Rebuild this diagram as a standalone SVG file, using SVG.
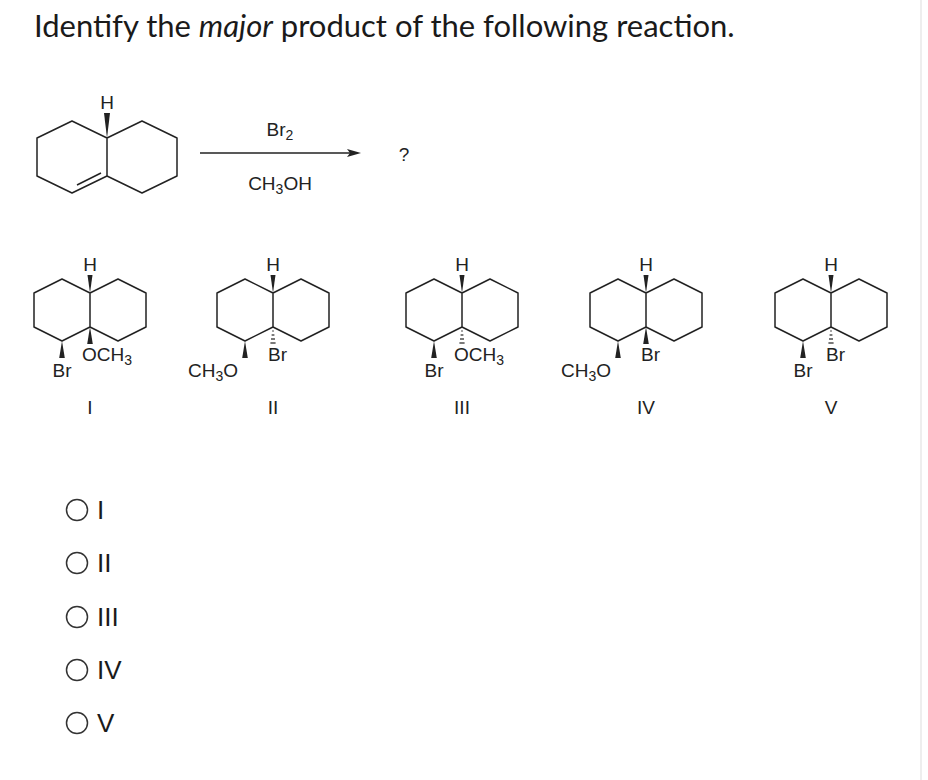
<svg xmlns="http://www.w3.org/2000/svg" width="928" height="780" viewBox="0 0 928 780">
<style>
.b{fill:none;stroke:#222;stroke-width:1.5;stroke-linejoin:round}
.w{fill:#222}
.h{stroke:#222;stroke-width:1.2}
.c{font-family:"Liberation Sans",Arial,sans-serif;font-size:19px;fill:#222}
.m{text-anchor:middle}
.t{font-family:Lato,"Liberation Sans",sans-serif;font-size:31px;fill:#1a1a1a}
.o{font-family:"Liberation Sans",Arial,sans-serif;font-size:26px;fill:#1a1a1a}
.r{fill:none;stroke:#333;stroke-width:1.5}
</style>
<defs>
<path id="ring" d="M0,293 L-28,279 L-56,293 L-56,327 L-28,341 L0,327 Z M0,293 L28,279 L56,293 L56,327 L28,341 L0,327"/>
<g id="hw"><polygon class="w" points="0,293 -2.5,275 2.5,275"/><text class="c m" x="0" y="271">H</text></g>
<polygon id="bw" class="w" points="0,0 -2.8,17 2.8,17"/>
<g id="hs"><line class="h" x1="-0.8" y1="331" x2="0.8" y2="331"/><line class="h" x1="-1.4" y1="335" x2="1.4" y2="335"/><line class="h" x1="-2" y1="339" x2="2" y2="339"/><line class="h" x1="-2.6" y1="343" x2="2.6" y2="343"/></g>
</defs>
<rect width="928" height="780" fill="#fff"/>
<line x1="921" y1="0" x2="921" y2="780" stroke="#eee" stroke-width="2"/>
<text class="t" x="34" y="37">Identify the <tspan font-style="italic">major</tspan> product of the following reaction.</text>

<g id="start">
<path class="b" d="M107,138 L72,121 L37,138 L37,176 L72,193 L107,176 Z M107,138 L142,121 L177,138 L177,176 L142,193 L107,176 M77,185 L101,173"/>
<polygon class="w" points="107,138 104,113 110,113"/>
<text class="c m" x="107" y="109">H</text>
</g>
<g id="arrow">
<line x1="200" y1="153" x2="350" y2="153" stroke="#222" stroke-width="1.5"/>
<polygon class="w" points="361,153 347,149 350,153 347,157"/>
<text class="c m" x="280" y="136" font-size="21">Br<tspan font-size="14" dy="4">2</tspan></text>
<text class="c m" x="280" y="190" font-size="21">CH<tspan font-size="14" dy="4">3</tspan><tspan dy="-4">OH</tspan></text>
<text class="c m" x="404" y="161">?</text>
</g>

<g id="p1" transform="translate(90,0)">
<use href="#ring" class="b"/><use href="#hw"/>
<use href="#bw" x="-28" y="341"/><text class="c m" x="-28" y="377">Br</text>
<use href="#bw" x="0" y="327"/><text class="c" x="-8" y="361">OCH<tspan font-size="14" dy="4">3</tspan></text>
<text class="c m" x="0" y="414">I</text>
</g>
<g id="p2" transform="translate(273,0)">
<use href="#ring" class="b"/><use href="#hw"/>
<use href="#bw" x="-28" y="341"/><text class="c" x="-85" y="377">CH<tspan font-size="14" dy="4">3</tspan><tspan dy="-4">O</tspan></text>
<use href="#hs"/><text class="c" x="-5" y="361">Br</text>
<text class="c m" x="0" y="414">II</text>
</g>
<g id="p3" transform="translate(462,0)">
<use href="#ring" class="b"/><use href="#hw"/>
<use href="#bw" x="-28" y="341"/><text class="c m" x="-28" y="377">Br</text>
<use href="#hs"/><text class="c" x="-8" y="361">OCH<tspan font-size="14" dy="4">3</tspan></text>
<text class="c m" x="0" y="414">III</text>
</g>
<g id="p4" transform="translate(646,0)">
<use href="#ring" class="b"/><use href="#hw"/>
<use href="#bw" x="-28" y="341"/><text class="c" x="-85" y="377">CH<tspan font-size="14" dy="4">3</tspan><tspan dy="-4">O</tspan></text>
<use href="#bw" x="0" y="327"/><text class="c" x="-5" y="361">Br</text>
<text class="c m" x="0" y="414">IV</text>
</g>
<g id="p5" transform="translate(831,0)">
<use href="#ring" class="b"/><use href="#hw"/>
<use href="#bw" x="-28" y="341"/><text class="c m" x="-28" y="377">Br</text>
<use href="#hs"/><text class="c" x="-5" y="361">Br</text>
<text class="c m" x="0" y="414">V</text>
</g>

<g id="options">
<circle class="r" cx="77" cy="510" r="10.5"/><text class="o" x="97" y="519">I</text>
<circle class="r" cx="77" cy="563" r="10.5"/><text class="o" x="97" y="572">II</text>
<circle class="r" cx="77" cy="617" r="10.5"/><text class="o" x="97" y="626">III</text>
<circle class="r" cx="77" cy="670" r="10.5"/><text class="o" x="97" y="679">IV</text>
<circle class="r" cx="77" cy="723" r="10.5"/><text class="o" x="97" y="732">V</text>
</g>
</svg>
